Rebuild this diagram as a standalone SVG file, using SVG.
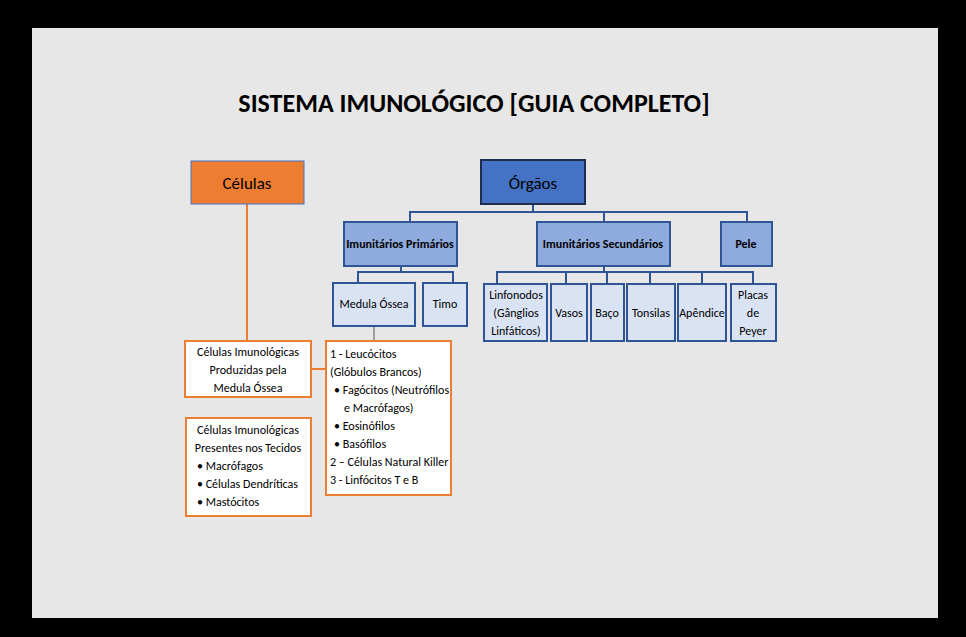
<svg xmlns="http://www.w3.org/2000/svg" width="966" height="637" viewBox="0 0 966 637">
<style>
text{font-family:Calibri,"Liberation Sans Narrow","Liberation Sans",sans-serif;fill:#000}
.t{font-size:12px;text-anchor:middle}
.l{font-size:12px}
.p{fill:#8faadc;stroke:#2f5597;stroke-width:2}
.s{fill:#dae3f3;stroke:#2f5597;stroke-width:2}
.o{fill:#fff;stroke:#ed7d31;stroke-width:2}
.c{fill:none;stroke:#2f5597;stroke-width:2}
</style>
<rect width="966" height="637" fill="#000"/>
<rect x="32" y="28" width="906" height="590" fill="#e7e7e7"/>
<text x="474" y="112" style="font-size:26px;font-weight:bold;text-anchor:middle;font-family:Calibri,'Liberation Sans',sans-serif">SISTEMA IMUNOLÓGICO [GUIA COMPLETO]</text>
<g id="connectors">
<path class="c" d="M533 204V212M410 222V212H747V222M604 212V222"/>
<path class="c" d="M401 266V272M358 283V272H453V283"/>
<path class="c" d="M604 266V272M497 284V272H753V284M566 272V284M607 272V284M650 272V284M702 272V284"/>
<path d="M247 204V341M311 369H326" fill="none" stroke="#ed7d31" stroke-width="2"/>
<path d="M374 326V341" fill="none" stroke="#555" stroke-width="1"/>
</g>
<g id="celulas"><rect x="191" y="161" width="113" height="43" fill="#ed7d31" stroke="#4472c4"/><text x="247" y="189" style="font-size:17px;text-anchor:middle">Células</text></g>
<g id="orgaos"><rect x="481" y="160" width="104" height="44" fill="#4472c4" stroke="#1f2d4f" stroke-width="2"/><text x="533" y="189" style="font-size:17px;text-anchor:middle">Órgãos</text></g>
<g id="primarios"><rect class="p" x="344" y="222" width="113" height="44"/><text class="t" x="400" y="248" font-weight="bold">Imunitários Primários</text></g>
<g id="secundarios"><rect class="p" x="537" y="222" width="133" height="44"/><text class="t" x="603" y="248" font-weight="bold">Imunitários Secundários</text></g>
<g id="pele"><rect class="p" x="721" y="222" width="51" height="44"/><text class="t" x="746" y="248" font-weight="bold">Pele</text></g>
<g id="medula"><rect class="s" x="333" y="283" width="82" height="43"/><text class="t" x="374" y="308">Medula Óssea</text></g>
<g id="timo"><rect class="s" x="423" y="283" width="44" height="43"/><text class="t" x="445" y="308">Timo</text></g>
<g id="linfonodos"><rect class="s" x="484" y="284" width="63" height="57"/><text class="t" x="516" y="299">Linfonodos</text><text class="t" x="516" y="317">(Gânglios</text><text class="t" x="516" y="335">Linfáticos)</text></g>
<g id="vasos"><rect class="s" x="551" y="284" width="36" height="57"/><text class="t" x="569" y="317">Vasos</text></g>
<g id="baco"><rect class="s" x="591" y="284" width="33" height="57"/><text class="t" x="607" y="317">Baço</text></g>
<g id="tonsilas"><rect class="s" x="627" y="284" width="48" height="57"/><text class="t" x="651" y="317">Tonsilas</text></g>
<g id="apendice"><rect class="s" x="678" y="284" width="48" height="57"/><text class="t" x="702" y="317">Apêndice</text></g>
<g id="placas"><rect class="s" x="731" y="284" width="45" height="57"/><text class="t" x="753" y="299">Placas</text><text class="t" x="753" y="317">de</text><text class="t" x="753" y="335">Peyer</text></g>
<g id="produzidas"><rect class="o" x="185" y="341" width="126" height="56"/><text class="t" x="248" y="356">Células Imunológicas</text><text class="t" x="248" y="374">Produzidas pela</text><text class="t" x="248" y="392">Medula Óssea</text></g>
<g id="presentes"><rect class="o" x="186" y="418" width="125" height="98"/><text class="t" x="248" y="434">Células  Imunológicas</text><text class="t" x="248" y="452">Presentes  nos Tecidos</text><text class="l" x="197" y="470">•  Macrófagos</text><text class="l" x="197" y="488">•  Células Dendríticas</text><text class="l" x="197" y="506">•  Mastócitos</text></g>
<g id="leucocitos"><rect class="o" x="326" y="341" width="125" height="154"/>
<text class="l" x="330" y="358">1 - Leucócitos</text><text class="l" x="330" y="376">(Glóbulos Brancos)</text>
<text class="l" x="334" y="394">•  Fagócitos (Neutrófilos</text><text class="l" x="344" y="412">e Macrófagos)</text>
<text class="l" x="334" y="430">•  Eosinófilos</text><text class="l" x="334" y="448">•  Basófilos</text>
<text class="l" x="330" y="466">2 – Células Natural Killer</text><text class="l" x="330" y="484">3 -  Linfócitos T e B</text></g>
</svg>
